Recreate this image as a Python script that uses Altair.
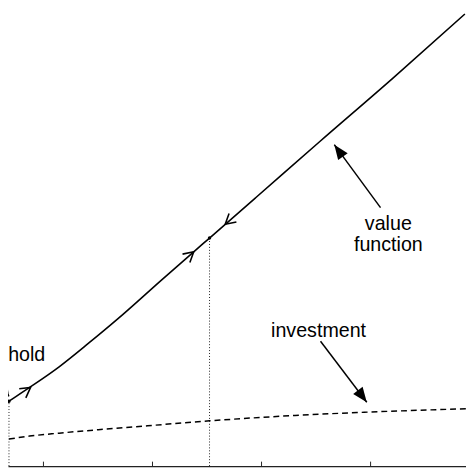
import altair as alt
import pandas as pd

# value function curve
vf_x = [0.603, 0.684, 0.873, 1.144, 1.414, 1.684, 2.090, 2.378, 2.523, 2.946, 3.532, 4.208, 4.865]
vf_y = [0.60, 0.66, 0.80, 1.01, 1.25, 1.50, 1.90, 2.18, 2.32, 2.73, 3.30, 3.95, 4.60]

# investment curve (two pieces)
inv_a_x = [0.603, 0.684]
inv_a_y = [0.21, 0.24]
inv_b_x = [0.684, 0.873, 1.144, 1.504, 1.955, 2.523, 3.307, 4.001, 4.875]
inv_b_y = [0.275, 0.305, 0.335, 0.37, 0.41, 0.46, 0.515, 0.55, 0.583]

# thresholds (dotted verticals + dots)
thr_x = [0.684, 2.523]
thr_y = [0.66, 2.32]

# direction chevrons on the value function
chev_x = [0.882, 2.378, 2.667]
chev_y = [0.80, 2.18, 2.46]
chev_angle = [324, 319, 139]

# annotation arrows (tail -> tip)
ann_x1 = [4.091, 3.541, 0.531]
ann_y1 = [2.63, 1.27, 1.00]
ann_x2 = [3.667, 3.965, 0.684]
ann_y2 = [3.27, 0.65, 0.71]
ann_angle = [234, 53, 60]

# labels
lab_text = ["value", "function", "investment"]
lab_x = [4.163, 4.163, 3.523]
lab_y = [2.405, 2.193, 1.317]
hold_text = ["hold"]
hold_x = [1.017]
hold_y = [1.07]

# axis ticks
tick_x = [1, 2, 3, 4]

xs = alt.Scale(domain=[0.675, 4.875], nice=False, zero=False)
ys = alt.Scale(domain=[0, 4.62], nice=False, zero=False)
xa = alt.Axis(labels=False, ticks=False, title=None, grid=False,
              domainColor="#222222", domainWidth=1.3)

def X(f):
    return alt.X(f, type="quantitative", scale=xs, axis=xa)

def Y(f):
    return alt.Y(f, type="quantitative", scale=ys, axis=None)

vf = pd.DataFrame({"x": vf_x, "y": vf_y})
inv = pd.DataFrame({
    "x": inv_a_x + inv_b_x,
    "y": inv_a_y + inv_b_y,
    "seg": ["a"] * len(inv_a_x) + ["b"] * len(inv_b_x),
})
thr = pd.DataFrame({"x": thr_x, "y": thr_y, "y0": [0, 0]})
chev = pd.DataFrame({"x": chev_x, "y": chev_y, "a": chev_angle})
ann = pd.DataFrame({"x": ann_x1, "y": ann_y1, "x2": ann_x2, "y2": ann_y2, "a": ann_angle})
lab = pd.DataFrame({"t": lab_text, "x": lab_x, "y": lab_y})
hold = pd.DataFrame({"t": hold_text, "x": hold_x, "y": hold_y})
ticks = pd.DataFrame({"x": tick_x, "y0": [0] * 4, "y1": [0.045] * 4})

base_line = alt.Chart(vf).mark_line(color="black", strokeWidth=1.6, clip=True,
                                     interpolate="monotone").encode(
    x=X("x"), y=Y("y"), order="x:Q")

inv_line = alt.Chart(inv).mark_line(color="black", strokeWidth=1.5, strokeDash=[6, 4], clip=True,
                                     interpolate="monotone").encode(
    x=X("x"), y=Y("y"), detail="seg:N", order="x:Q")

thr_rule = alt.Chart(thr).mark_rule(color="#222222", strokeWidth=1, strokeDash=[1, 2]).encode(
    x=X("x"), y=Y("y0"), y2="y")

thr_dot = alt.Chart(thr).mark_circle(color="black", size=12, opacity=1).encode(
    x=X("x"), y=Y("y"))

chev_mark = alt.Chart(chev).mark_point(
    shape="M-1.6,-0.9L0,0L-1.6,0.9", size=160, filled=False, color="black",
    strokeWidth=1.6, opacity=1).encode(
    x=X("x"), y=Y("y"), angle=alt.Angle("a:Q", scale=None))

ann_rule = alt.Chart(ann).mark_rule(color="black", strokeWidth=1.5, clip=True).encode(
    x=X("x"), y=Y("y"), x2="x2", y2="y2")

ann_head = alt.Chart(ann).mark_point(
    shape="M0,0L-2,-0.8L-2,0.8Z", size=225, filled=True, color="black", opacity=1).encode(
    x=X("x2"), y=Y("y2"), angle=alt.Angle("a:Q", scale=None))

labels = alt.Chart(lab).mark_text(font="Liberation Sans", fontSize=20, align="center",
                                  baseline="alphabetic", color="black").encode(
    x=X("x"), y=Y("y"), text="t:N")

hold_lab = alt.Chart(hold).mark_text(font="Liberation Sans", fontSize=20, align="right",
                                     baseline="alphabetic", color="black").encode(
    x=X("x"), y=Y("y"), text="t:N")

tick_rule = alt.Chart(ticks).mark_rule(color="#222222", strokeWidth=1).encode(
    x=X("x"), y=Y("y0"), y2="y1")

chart = alt.layer(
    tick_rule, thr_rule, inv_line, base_line, thr_dot, chev_mark, ann_rule, ann_head, labels, hold_lab
).properties(
    width=466, height=462,
    autosize=alt.AutoSizeParams(type="none"),
    padding={"left": 0, "top": 0, "right": 0, "bottom": 4},
    background="white",
).configure_view(stroke=None)

chart.save("out.html", embed_options={"renderer": "svg", "actions": False})
